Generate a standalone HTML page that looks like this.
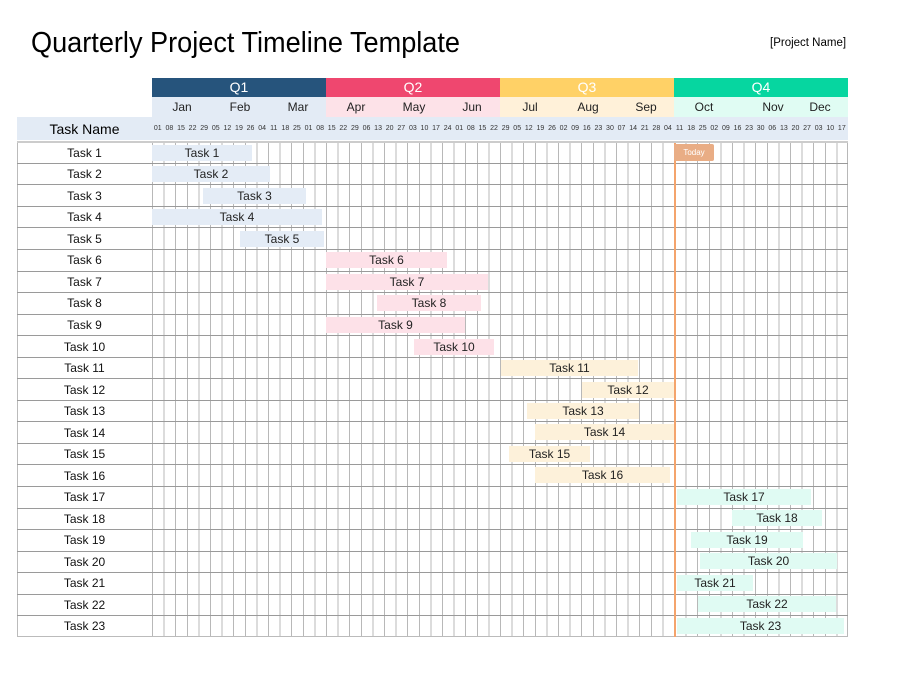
<!DOCTYPE html>
<html><head><meta charset="utf-8"><style>
body{margin:0;width:900px;height:695px;background:#fff;font-family:"Liberation Sans",sans-serif;position:relative;overflow:hidden}
.a{position:absolute}
.title{left:31px;top:27px;font-size:29px;color:#000;transform:scaleX(0.935);transform-origin:left top;white-space:nowrap}
.pn{left:770px;top:37px;font-size:11.5px;color:#000}
.q{top:78px;height:19px;color:#fff;font-size:14px;text-align:center;line-height:19px}
.m{top:97px;height:20px;font-size:12px;line-height:20px;color:#222}
.m span{position:absolute;transform:translateX(-50%)}
.dr{left:17px;top:117px;width:831px;height:23px;background:#e3ebf5}
.tn{left:17px;top:118px;width:135px;height:23px;line-height:23px;text-align:center;font-size:14px;color:#000}
.grid{left:152px;top:141px;width:696px;height:496px;background:repeating-linear-gradient(to right,#b8b8b8 0,#b8b8b8 1px,transparent 1px,transparent 11.6px)}
.left{left:17px;top:141px;width:135px;height:496px;border-left:1px solid #bbb;box-sizing:border-box}
.row{left:17px;width:831px;height:1px;background:#9a9a9a}
.lbl{left:17px;width:135px;text-align:center;font-size:12px;line-height:21.5px;height:21.5px;color:#111;margin-top:1px}
.bar{height:16px;line-height:16px;font-size:12px;text-align:center;color:#222}
.b1{background:#e4ecf6}.b2{background:#fde1e8}.b3{background:#fdf1da}.b4{background:#e0fbf3}
</style></head><body>
<div class="a title">Quarterly Project Timeline Template</div>
<div class="a pn">[Project Name]</div>
<div class="a q" style="left:152px;width:174px;background:#26547c">Q1</div>
<div class="a q" style="left:326px;width:174px;background:#ef476f">Q2</div>
<div class="a q" style="left:500px;width:174px;background:#ffd166">Q3</div>
<div class="a q" style="left:674px;width:174px;background:#06d6a0">Q4</div>
<div class="a m" style="left:152px;width:174px;background:#e3ebf5"></div>
<div class="a m" style="left:326px;width:174px;background:#fde2e8"></div>
<div class="a m" style="left:500px;width:174px;background:#fff1d9"></div>
<div class="a m" style="left:674px;width:174px;background:#e0fcf3"></div>
<div class="a m" style="left:0;width:900px">
<span style="left:182px">Jan</span><span style="left:240px">Feb</span><span style="left:298px">Mar</span>
<span style="left:356px">Apr</span><span style="left:414px">May</span><span style="left:472px">Jun</span>
<span style="left:530px">Jul</span><span style="left:588px">Aug</span><span style="left:646px">Sep</span>
<span style="left:704px">Oct</span><span style="left:773px">Nov</span><span style="left:820px">Dec</span>
</div>
<div class="a dr"></div>
<div class="a tn">Task Name</div>
<div class="a" style="left:152px;top:117px;width:700px;height:23px;display:flex;font-size:7px;line-height:23px;color:#333">
<span style="width:11.6px;text-align:center">01</span><span style="width:11.6px;text-align:center">08</span><span style="width:11.6px;text-align:center">15</span><span style="width:11.6px;text-align:center">22</span><span style="width:11.6px;text-align:center">29</span><span style="width:11.6px;text-align:center">05</span><span style="width:11.6px;text-align:center">12</span><span style="width:11.6px;text-align:center">19</span><span style="width:11.6px;text-align:center">26</span><span style="width:11.6px;text-align:center">04</span><span style="width:11.6px;text-align:center">11</span><span style="width:11.6px;text-align:center">18</span><span style="width:11.6px;text-align:center">25</span><span style="width:11.6px;text-align:center">01</span><span style="width:11.6px;text-align:center">08</span><span style="width:11.6px;text-align:center">15</span><span style="width:11.6px;text-align:center">22</span><span style="width:11.6px;text-align:center">29</span><span style="width:11.6px;text-align:center">06</span><span style="width:11.6px;text-align:center">13</span><span style="width:11.6px;text-align:center">20</span><span style="width:11.6px;text-align:center">27</span><span style="width:11.6px;text-align:center">03</span><span style="width:11.6px;text-align:center">10</span><span style="width:11.6px;text-align:center">17</span><span style="width:11.6px;text-align:center">24</span><span style="width:11.6px;text-align:center">01</span><span style="width:11.6px;text-align:center">08</span><span style="width:11.6px;text-align:center">15</span><span style="width:11.6px;text-align:center">22</span><span style="width:11.6px;text-align:center">29</span><span style="width:11.6px;text-align:center">05</span><span style="width:11.6px;text-align:center">12</span><span style="width:11.6px;text-align:center">19</span><span style="width:11.6px;text-align:center">26</span><span style="width:11.6px;text-align:center">02</span><span style="width:11.6px;text-align:center">09</span><span style="width:11.6px;text-align:center">16</span><span style="width:11.6px;text-align:center">23</span><span style="width:11.6px;text-align:center">30</span><span style="width:11.6px;text-align:center">07</span><span style="width:11.6px;text-align:center">14</span><span style="width:11.6px;text-align:center">21</span><span style="width:11.6px;text-align:center">28</span><span style="width:11.6px;text-align:center">04</span><span style="width:11.6px;text-align:center">11</span><span style="width:11.6px;text-align:center">18</span><span style="width:11.6px;text-align:center">25</span><span style="width:11.6px;text-align:center">02</span><span style="width:11.6px;text-align:center">09</span><span style="width:11.6px;text-align:center">16</span><span style="width:11.6px;text-align:center">23</span><span style="width:11.6px;text-align:center">30</span><span style="width:11.6px;text-align:center">06</span><span style="width:11.6px;text-align:center">13</span><span style="width:11.6px;text-align:center">20</span><span style="width:11.6px;text-align:center">27</span><span style="width:11.6px;text-align:center">03</span><span style="width:11.6px;text-align:center">10</span><span style="width:11.6px;text-align:center">17</span>
</div>
<div class="a grid"></div>
<div class="a" style="left:847px;top:141px;width:1px;height:496px;background:#b8b8b8"></div>
<div class="a left"></div>
<div class="a row" style="top:141px;background:#ccc;height:2px"></div>
<div class="a row" style="top:163px"></div><div class="a row" style="top:184px"></div><div class="a row" style="top:206px"></div><div class="a row" style="top:227px"></div><div class="a row" style="top:249px"></div><div class="a row" style="top:271px"></div><div class="a row" style="top:292px"></div><div class="a row" style="top:314px"></div><div class="a row" style="top:335px"></div><div class="a row" style="top:357px"></div><div class="a row" style="top:378px"></div><div class="a row" style="top:400px"></div><div class="a row" style="top:421px"></div><div class="a row" style="top:443px"></div><div class="a row" style="top:464px"></div><div class="a row" style="top:486px"></div><div class="a row" style="top:508px"></div><div class="a row" style="top:529px"></div><div class="a row" style="top:551px"></div><div class="a row" style="top:572px"></div><div class="a row" style="top:594px"></div><div class="a row" style="top:615px"></div><div class="a row" style="top:636px;background:#bbb"></div>

<div class="a lbl" style="top:142px">Task 1</div><div class="a lbl" style="top:163px">Task 2</div><div class="a lbl" style="top:185px">Task 3</div><div class="a lbl" style="top:206px">Task 4</div><div class="a lbl" style="top:228px">Task 5</div><div class="a lbl" style="top:249px">Task 6</div><div class="a lbl" style="top:271px">Task 7</div><div class="a lbl" style="top:292px">Task 8</div><div class="a lbl" style="top:314px">Task 9</div><div class="a lbl" style="top:336px">Task 10</div><div class="a lbl" style="top:357px">Task 11</div><div class="a lbl" style="top:379px">Task 12</div><div class="a lbl" style="top:400px">Task 13</div><div class="a lbl" style="top:422px">Task 14</div><div class="a lbl" style="top:443px">Task 15</div><div class="a lbl" style="top:465px">Task 16</div><div class="a lbl" style="top:486px">Task 17</div><div class="a lbl" style="top:508px">Task 18</div><div class="a lbl" style="top:529px">Task 19</div><div class="a lbl" style="top:551px">Task 20</div><div class="a lbl" style="top:572px">Task 21</div><div class="a lbl" style="top:594px">Task 22</div><div class="a lbl" style="top:615px">Task 23</div>

<div class="a bar b1" style="top:145px;left:152px;width:100px">Task 1</div>
<div class="a bar b1" style="top:166px;left:152px;width:118px">Task 2</div>
<div class="a bar b1" style="top:188px;left:203px;width:103px">Task 3</div>
<div class="a bar b1" style="top:209px;left:152px;width:170px">Task 4</div>
<div class="a bar b1" style="top:231px;left:240px;width:84px">Task 5</div>
<div class="a bar b2" style="top:252px;left:326px;width:121px">Task 6</div>
<div class="a bar b2" style="top:274px;left:326px;width:162px">Task 7</div>
<div class="a bar b2" style="top:295px;left:377px;width:104px">Task 8</div>
<div class="a bar b2" style="top:317px;left:326px;width:139px">Task 9</div>
<div class="a bar b2" style="top:339px;left:414px;width:80px">Task 10</div>
<div class="a bar b3" style="top:360px;left:501px;width:137px">Task 11</div>
<div class="a bar b3" style="top:382px;left:582px;width:92px">Task 12</div>
<div class="a bar b3" style="top:403px;left:527px;width:112px">Task 13</div>
<div class="a bar b3" style="top:424px;left:535px;width:139px">Task 14</div>
<div class="a bar b3" style="top:446px;left:509px;width:81px">Task 15</div>
<div class="a bar b3" style="top:467px;left:535px;width:135px">Task 16</div>
<div class="a bar b4" style="top:489px;left:677px;width:134px">Task 17</div>
<div class="a bar b4" style="top:510px;left:732px;width:90px">Task 18</div>
<div class="a bar b4" style="top:532px;left:691px;width:112px">Task 19</div>
<div class="a bar b4" style="top:553px;left:700px;width:137px">Task 20</div>
<div class="a bar b4" style="top:575px;left:677px;width:76px">Task 21</div>
<div class="a bar b4" style="top:596px;left:698px;width:138px">Task 22</div>
<div class="a bar b4" style="top:618px;left:677px;width:167px">Task 23</div>

<div class="a" style="left:674px;top:143px;width:2px;height:494px;background:#f4a46c"></div>
<div class="a" style="left:674px;top:144px;width:40px;height:17px;background:#e9ad85;border-radius:2px;color:#fff;font-size:8px;line-height:17px;text-align:center">Today</div>
</body></html>
